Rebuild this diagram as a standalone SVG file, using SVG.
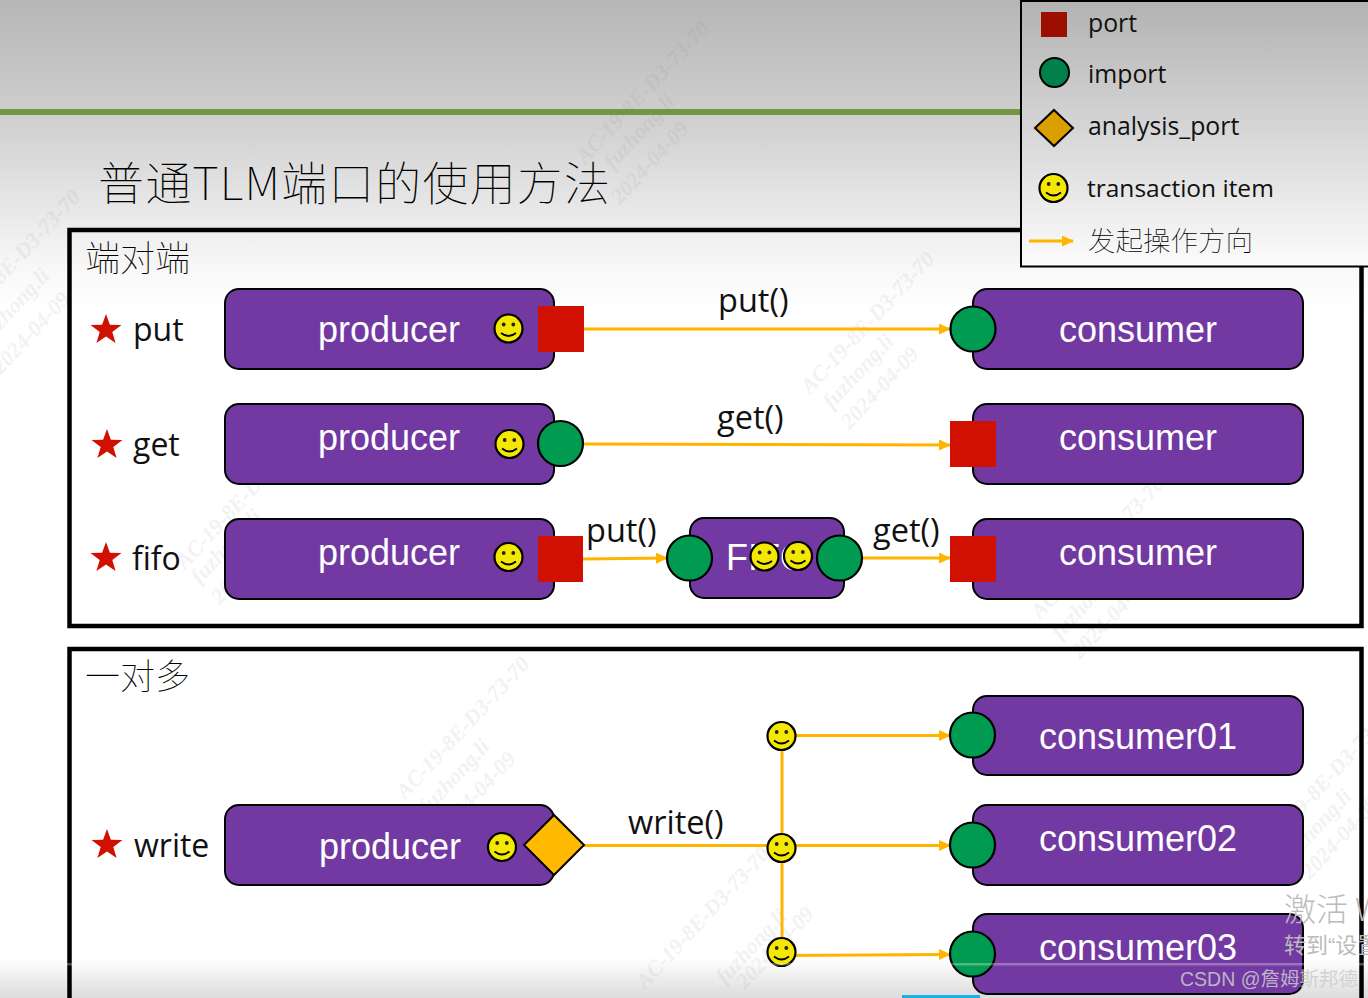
<svg xmlns="http://www.w3.org/2000/svg" width="1368" height="998" viewBox="0 0 1368 998">
<style>
.cn{font-family:"Noto Sans CJK SC",sans-serif;font-weight:100;fill:#000}
.lat{font-family:"Open Sans","Noto Sans",sans-serif;fill:#111}
.lbl{font-family:"Open Sans","Noto Sans",sans-serif;font-size:32.500px;fill:#111}
.side{font-family:"Open Sans","Noto Sans",sans-serif;font-size:32px;fill:#111}
.box{fill:#7139a1;stroke:#000;stroke-width:2}
.bt{font-family:"Liberation Sans",Arial,sans-serif;font-size:36px;fill:#fff;text-anchor:middle}
.pt{fill:#d01000}
.imp{fill:#009a50;stroke:#000;stroke-width:2.2}
.con{fill:none;stroke:#ffb400;stroke-width:3}
.frame{fill:none;stroke:#000;stroke-width:4.5}
.wm{font-family:"Liberation Serif",serif;font-style:italic;font-weight:bold;font-size:22px;fill:#888;opacity:.1}
.star{fill:#d01000}
</style>
<defs>
<linearGradient id="bg" x1="0" y1="0" x2="0" y2="1"><stop offset="0" stop-color="#b6b6b6"/><stop offset=".13" stop-color="#d2d2d2"/><stop offset=".27" stop-color="#f8f8f8"/><stop offset=".31" stop-color="#fff"/><stop offset=".96" stop-color="#fff"/><stop offset="1" stop-color="#dcdcdc"/></linearGradient>
<linearGradient id="lg" x1="0" y1="0" x2="0" y2="1"><stop offset="0" stop-color="#b2b2b2"/><stop offset="1" stop-color="#fcfcfc"/></linearGradient>
<marker id="ah" markerWidth="13" markerHeight="12" refX="11" refY="5.500" orient="auto" markerUnits="userSpaceOnUse"><path d="M0 0L12 5.500L0 11Z" fill="#ffb400"/></marker>
<g id="sm"><circle r="14" fill="#f5e800" stroke="#000" stroke-width="2.2"/><circle cx="-4.800" cy="-4" r="1.900" fill="#222"/><circle cx="4.800" cy="-4" r="1.900" fill="#222"/><path d="M-7.500 4.500Q0 10.500 7.500 4.500" fill="none" stroke="#000" stroke-width="1.800"/></g>
<path id="st" d="M0 -16L3.900 -5.200L15.500 -5L6.300 2L9.600 13L0 6.600L-9.600 13L-6.300 2L-15.500 -5L-3.900 -5.200Z"/>
</defs>
<rect id="background" width="1368" height="998" fill="url(#bg)"/>
<rect id="rule" x="0" y="109" width="1030" height="6" fill="#70983f"/>
<g id="watermarks">
<text class="wm" transform="translate(585,165) rotate(-47)">AC-19-8E-D3-73-70</text>
<text class="wm" transform="translate(613,170) rotate(-47)">fuzhong.li</text>
<text class="wm" transform="translate(620,205) rotate(-47)">2024-04-09</text>
<text class="wm" transform="translate(810,395) rotate(-47)">AC-19-8E-D3-73-70</text>
<text class="wm" transform="translate(832,410) rotate(-47)">fuzhong.li</text>
<text class="wm" transform="translate(850,430) rotate(-47)">2024-04-09</text>
<text class="wm" transform="translate(405,800) rotate(-47)">AC-19-8E-D3-73-70</text>
<text class="wm" transform="translate(428,815) rotate(-47)">fuzhong.li</text>
<text class="wm" transform="translate(447,835) rotate(-47)">2024-04-09</text>
<text class="wm" transform="translate(185,570) rotate(-47)">AC-19-8E-D3-73-70</text>
<text class="wm" transform="translate(200,585) rotate(-47)">fuzhong.li</text>
<text class="wm" transform="translate(220,605) rotate(-47)">2024-04-09</text>
<text class="wm" transform="translate(645,990) rotate(-47)">AC-19-8E-D3-73-70</text>
<text class="wm" transform="translate(725,985) rotate(-47)">fuzhong.li</text>
<text class="wm" transform="translate(745,990) rotate(-47)">2024-04-09</text>
<text class="wm" transform="translate(1040,620) rotate(-47)">AC-19-8E-D3-73-70</text>
<text class="wm" transform="translate(1060,640) rotate(-47)">fuzhong.li</text>
<text class="wm" transform="translate(1080,660) rotate(-47)">2024-04-09</text>
<text class="wm" transform="translate(1270,850) rotate(-47)">AC-19-8E-D3-73-70</text>
<text class="wm" transform="translate(1290,865) rotate(-47)">fuzhong.li</text>
<text class="wm" transform="translate(1310,880) rotate(-47)">2024-04-09</text>
<text class="wm" transform="translate(1,285) rotate(-47)">8E-D3-73-70</text>
<text class="wm" transform="translate(1,330) rotate(-47)">zhong.li</text>
<text class="wm" transform="translate(1,375) rotate(-47)">2024-04-09</text>
</g>
<text id="title" x="98" y="200" class="cn" font-size="46" textLength="512">普通TLM端口的使用方法</text>
<rect id="frame1" class="frame" x="69.500" y="230" width="1292" height="396"/>
<rect id="frame2" class="frame" x="69.500" y="649" width="1292" height="360"/>
<text id="sec1" x="85" y="271" class="cn" font-size="35">端对端</text>
<text id="sec2" x="85" y="689" class="cn" font-size="35">一对多</text>
<g id="connectors">
<line class="con" x1="584" y1="329" x2="950" y2="329" marker-end="url(#ah)"/>
<line class="con" x1="584" y1="444" x2="950" y2="445" marker-end="url(#ah)"/>
<line class="con" x1="583" y1="559" x2="667" y2="558" marker-end="url(#ah)"/>
<line class="con" x1="862" y1="558" x2="950" y2="558" marker-end="url(#ah)"/>
<line class="con" x1="584" y1="845.500" x2="950" y2="845.500" marker-end="url(#ah)"/>
<line class="con" x1="782" y1="736" x2="782" y2="955"/>
<line class="con" x1="782" y1="735.500" x2="950" y2="735.500" marker-end="url(#ah)"/>
<line class="con" x1="782" y1="955.500" x2="950" y2="954.500" marker-end="url(#ah)"/>
</g>
<g id="row-put">
<use href="#st" x="106" y="330" class="star"/><text x="133" y="341" class="side">put</text>
<g id="producer1"><rect class="box" x="225" y="289" width="329" height="80" rx="14"/><text class="bt" x="389" y="342">producer</text><use href="#sm" x="508.500" y="328.500"/><rect class="pt" x="538" y="306" width="46" height="46"/></g>
<g id="consumer1"><rect class="box" x="973" y="289" width="330" height="80" rx="14"/><text class="bt" x="1138" y="342">consumer</text><circle class="imp" cx="973" cy="329" r="22.500"/></g>
<text x="718" y="312" class="lbl">put()</text>
</g>
<g id="row-get">
<use href="#st" x="107" y="445" class="star"/><text x="133" y="456" class="side">get</text>
<g id="producer2"><rect class="box" x="225" y="404" width="329" height="80" rx="14"/><text class="bt" x="389" y="450">producer</text><use href="#sm" x="509.500" y="444"/><circle class="imp" cx="560.500" cy="443.500" r="22.500"/></g>
<g id="consumer2"><rect class="box" x="973" y="404" width="330" height="80" rx="14"/><text class="bt" x="1138" y="450">consumer</text><rect class="pt" x="950" y="421" width="46" height="46"/></g>
<text x="717" y="429" class="lbl">get()</text>
</g>
<g id="row-fifo">
<use href="#st" x="106" y="558" class="star"/><text x="132" y="570" class="side">fifo</text>
<g id="producer3"><rect class="box" x="225" y="519" width="329" height="80" rx="14"/><text class="bt" x="389" y="565">producer</text><use href="#sm" x="508.500" y="557"/><rect class="pt" x="538" y="536" width="45" height="46"/></g>
<g id="fifo"><rect class="box" x="690" y="518" width="154" height="80" rx="14"/><text class="bt" x="767" y="570">FIFO</text><use href="#sm" x="764.500" y="556.500"/><use href="#sm" x="798" y="556"/><circle class="imp" cx="689.500" cy="558" r="22.500"/><circle class="imp" cx="839.500" cy="558" r="22.500"/></g>
<g id="consumer3"><rect class="box" x="973" y="519" width="330" height="80" rx="14"/><text class="bt" x="1138" y="565">consumer</text><rect class="pt" x="950" y="536" width="46" height="46"/></g>
<text x="586" y="542" class="lbl">put()</text>
<text x="873" y="542" class="lbl">get()</text>
</g>
<g id="row-write">
<use href="#st" x="107" y="845" class="star"/><text x="134" y="857" class="side">write</text>
<g id="producer4"><rect class="box" x="225" y="805" width="329" height="80" rx="14"/><text class="bt" x="390" y="859">producer</text><use href="#sm" x="502" y="847"/><path d="M554 815L584 845L554 875L524 845Z" fill="#ffb900" stroke="#000" stroke-width="2"/></g>
<text x="628" y="834" class="lbl">write()</text>
<use href="#sm" x="781.500" y="736"/><use href="#sm" x="781.500" y="848"/><use href="#sm" x="781.500" y="952"/>
<g id="consumer01"><rect class="box" x="973" y="696" width="330" height="79" rx="14"/><text class="bt" x="1138" y="749">consumer01</text><circle class="imp" cx="972.500" cy="735" r="22.500"/></g>
<g id="consumer02"><rect class="box" x="973" y="805" width="330" height="80" rx="14"/><text class="bt" x="1138" y="851">consumer02</text><circle class="imp" cx="972.500" cy="845" r="22.500"/></g>
<g id="consumer03"><rect class="box" x="973" y="914" width="330" height="80" rx="14"/><text class="bt" x="1138" y="960">consumer03</text><circle class="imp" cx="972.500" cy="954" r="22.500"/></g>
</g>
<g id="legend">
<rect x="1021" y="1" width="349" height="265.500" fill="url(#lg)" stroke="#000" stroke-width="2"/>
<rect x="1041" y="12" width="26" height="25" fill="#9c0e00"/>
<text x="1088" y="32" class="lat" font-size="24.800">port</text>
<circle cx="1054.500" cy="72.500" r="14.500" fill="#00804a" stroke="#000" stroke-width="2"/>
<text x="1088" y="83" class="lat" font-size="24.800">import</text>
<path d="M1054 110L1073 128L1054 146L1035 128Z" fill="#dc9f00" stroke="#000" stroke-width="2"/>
<text x="1088" y="135" class="lat" font-size="24.800">analysis_port</text>
<use href="#sm" transform="translate(1053.500,188)"/>
<text x="1087" y="197" class="lat" font-size="24.500">transaction item</text>
<line class="con" x1="1029" y1="241" x2="1073" y2="241" marker-end="url(#ah)"/>
<text x="1088" y="251" class="cn" font-size="27.500">发起操作方向</text>
</g>
<g id="overlay">
<rect x="0" y="963" width="1368" height="2.500" fill="#fff" opacity=".3"/>
<rect x="902" y="995" width="78" height="3" fill="#1cb0e8"/>
<text x="1284" y="921" font-family="'Noto Sans CJK SC',sans-serif" font-weight="300" font-size="32" fill="#bbb">激活 W</text>
<text x="1284" y="953" font-family="'Liberation Sans','Noto Sans CJK SC',sans-serif" font-size="22" fill="#bbb">转到“设置</text>
<text x="1180" y="986" font-family="'Liberation Sans','Noto Sans CJK SC',sans-serif" font-size="19.500" fill="#ccc" fill-opacity=".85">CSDN @詹姆斯邦德</text>
</g>
</svg>
